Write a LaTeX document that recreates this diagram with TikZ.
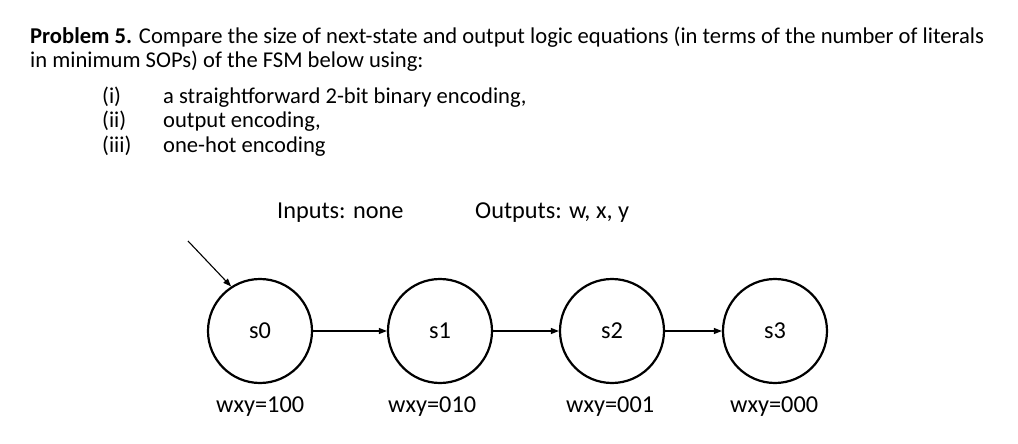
\documentclass[tikz,border=0pt]{standalone}
\usepackage{fontspec}
\setmainfont{Carlito}
\usetikzlibrary{arrows.meta}
\begin{document}
\begin{tikzpicture}[x=1pt,y=-1pt,
  txt/.style={anchor=base west,inner sep=0pt,font=\fontsize{22.6}{27}\selectfont},
  dtxt/.style={anchor=base west,inner sep=0pt,font=\fontsize{24.3}{29}\selectfont},
  state/.style={circle,draw,line width=2.2pt,minimum size=104pt,inner sep=0pt,font=\fontsize{24.3}{29}\selectfont},
  trans/.style={line width=1.1pt,-{Triangle[length=8pt,width=6pt]}}]
\useasboundingbox (0,0) rectangle (1018,444);
\node[txt] (l1) at (30,44) {\textbf{Problem 5.} Compare the size of next-state and output logic equations (in terms of the number of literals};
\node[txt] (l2) at (30,67) {in minimum SOPs) of the FSM below using:};
\node[txt] (i1) at (102,103) {(i)};
\node[txt] (t1) at (163,103) {a straightforward 2-bit binary encoding,};
\node[txt] (i2) at (102,127) {(ii)};
\node[txt] (t2) at (163,127) {output encoding,};
\node[txt] (i3) at (102,152) {(iii)};
\node[txt] (t3) at (163,152) {one-hot encoding};
\node[dtxt] (inp) at (277,218) {Inputs: none};
\node[dtxt] (outp) at (475,218) {Outputs: w, x, y};
\node[state] (s0) at (260,331) {s0};
\node[state] (s1) at (440,331) {s1};
\node[state] (s2) at (612,331) {s2};
\node[state] (s3) at (775,331) {s3};
\node[dtxt] (o0) at (216,412) {wxy=100};
\node[dtxt] (o1) at (388,412) {wxy=010};
\node[dtxt] (o2) at (566,412) {wxy=001};
\node[dtxt] (o3) at (730,412) {wxy=000};
\coordinate (init) at (188,241);
\draw[trans] (init) -- (s0.123);
\draw[trans] (s0) -- (s1);
\draw[trans] (s1) -- (s2);
\draw[trans] (s2) -- (s3);
\end{tikzpicture}
\end{document}
